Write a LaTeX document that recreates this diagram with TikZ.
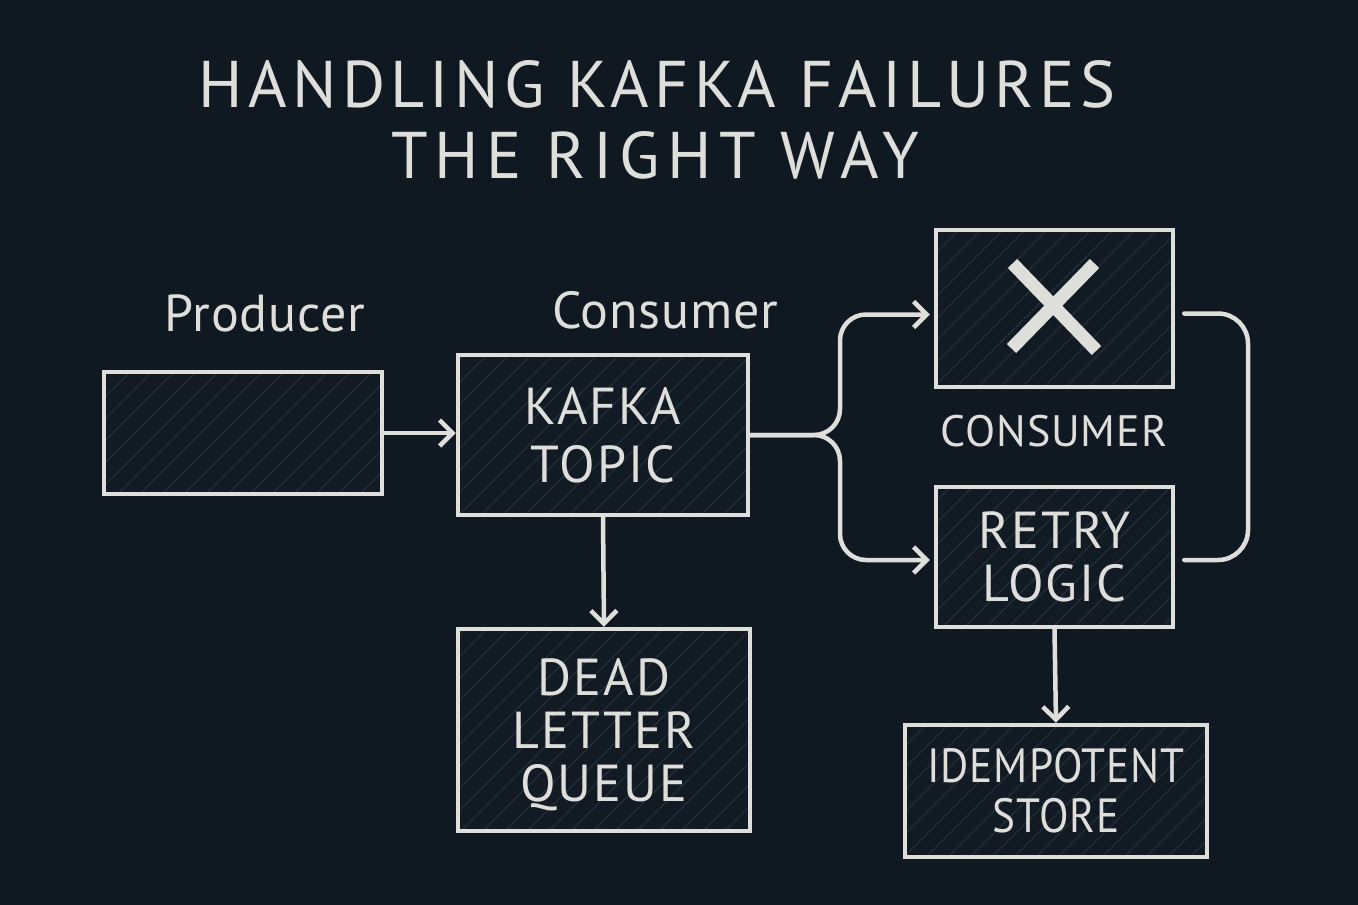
\documentclass[tikz,border=0pt]{standalone}
\usepackage{fontspec}
\setmainfont{PT Sans}
\usetikzlibrary{arrows.meta,calc}
\definecolor{bg}{RGB}{16,25,34}
\definecolor{chalk}{RGB}{222,222,218}
\definecolor{boxfill}{RGB}{18,27,36}
\definecolor{hatchc}{RGB}{36,47,57}
\tikzset{
  chalkbox/.style={draw=chalk, line width=4.5pt, fill=boxfill, rectangle, inner sep=0pt,
    text=chalk, align=center, font=\fontsize{52}{53}\selectfont\addfontfeature{LetterSpace=4},
    path picture={\foreach \k in {-30,...,30}
      \draw[hatchc, line width=1.3pt] ($(path picture bounding box.center)+(\k*22,200)$) -- ++(400,-400);}},
  lbl/.style={text=chalk, inner sep=0pt},
  conn/.style={draw=chalk, line width=4.5pt, line cap=round, line join=round},
  arr/.style={conn, -{Straight Barb[length=13pt,width=26pt,line width=4.5pt]}},
}
\begin{document}
\begin{tikzpicture}[x=1pt,y=-1pt]
\fill[bg] (0,0) rectangle (1358,905);
\useasboundingbox (0,0) rectangle (1358,905);

% title
\node[lbl, font=\fontsize{66}{70}\selectfont\addfontfeature{LetterSpace=8}] (t1) at (657,84) {HANDLING KAFKA FAILURES};
\node[lbl, font=\fontsize{66}{70}\selectfont\addfontfeature{LetterSpace=11}] (t2) at (655,155) {THE RIGHT WAY};

% labels
\node[lbl, font=\fontsize{52}{60}\selectfont\addfontfeature{LetterSpace=1.5}] (plabel) at (265,313) {Producer};
\node[lbl, font=\fontsize{52}{60}\selectfont\addfontfeature{LetterSpace=1.5}] (clabel) at (665,310) {Consumer};
\node[lbl, font=\fontsize{44}{50}\selectfont\addfontfeature{LetterSpace=2}] (c2label) at (1054,431) {CONSUMER};

% boxes
\node[chalkbox, minimum width=278pt, minimum height=122pt] (prod) at (243,433) {};
\node[chalkbox, minimum width=290pt, minimum height=160pt,
      font=\fontsize{52}{58}\selectfont\addfontfeature{LetterSpace=4}] (topic) at (603,435) {KAFKA\\TOPIC};
\node[chalkbox, minimum width=292pt, minimum height=202pt] (dlq) at (604,730) {\parbox{280pt}{\centering\vspace*{10pt}DEAD\\LETTER\\QUEUE}};
\node[chalkbox, minimum width=237pt, minimum height=157pt] (xbox) at (1054.5,308.5) {};
\node[chalkbox, minimum width=237pt, minimum height=140pt] (retry) at (1054.5,557) {RETRY\\LOGIC};
\node[chalkbox, minimum width=302pt, minimum height=132pt,
      font=\fontsize{48}{50}\selectfont\addfontfeature{LetterSpace=2,FakeStretch=0.9}] (idem) at (1056,791) {IDEMPOTENT\\STORE};

% X mark
\draw[chalk, line width=13pt] ($(xbox.center)+(-42,-45)$) -- ($(xbox.center)+(42,42)$);
\draw[chalk, line width=13pt] ($(xbox.center)+(40,-45)$) -- ($(xbox.center)+(-43,40)$);

% connectors
\draw[arr] (prod.east) -- (prod.east -| topic.west);
\draw[arr] (topic.south) -- (dlq.north);
\draw[arr] (retry.south) -- (idem.north);

\coordinate (fork) at (840,435);
\coordinate (upin) at ($(xbox.west)+(-4,6)$);
\coordinate (dnin) at ($(retry.west)+(-4,3)$);
\draw[arr, rounded corners=26pt] (topic.east) -- (fork) -- (fork |- upin) -- (upin);
\draw[arr, rounded corners=26pt] (topic.east) -- (fork) -- (fork |- dnin) -- (dnin);

\coordinate (lpA) at ($(xbox.east)+(9,5)$);
\coordinate (lpB) at ($(retry.east)+(9,3)$);
\draw[conn, rounded corners=30pt] (lpA) -- (lpA -| 1248,0) -- (lpB -| 1248,0) -- (lpB);
\end{tikzpicture}
\end{document}
